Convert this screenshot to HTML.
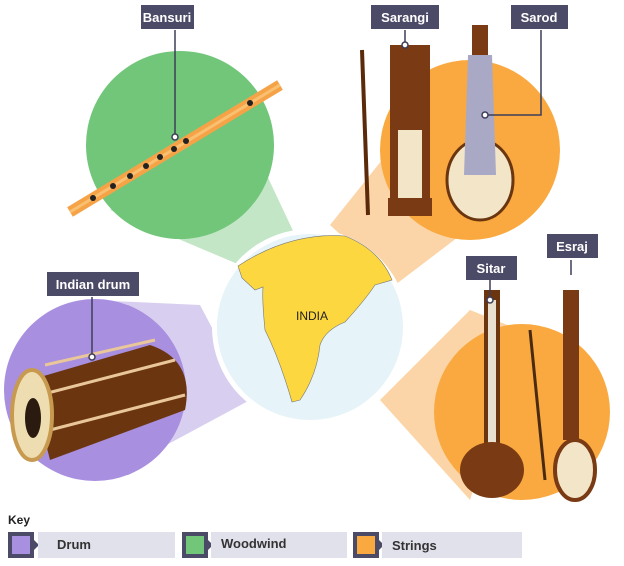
<!DOCTYPE html>
<html><head><style>
body{margin:0;background:#fff;width:624px;height:566px;overflow:hidden;font-family:"Liberation Sans",sans-serif}
</style></head><body>
<svg width="624" height="566" style="position:absolute;left:0;top:0" font-family="Liberation Sans, sans-serif">
<polygon points="110,210 255,150 295,235 240,265" fill="#c2e6c6"/>
<polygon points="390,150 520,190 395,285 330,225" fill="#fbd5a7"/>
<polygon points="90,300 200,305 250,400 120,470" fill="#d8cef0"/>
<polygon points="470,310 520,330 470,500 380,400" fill="#fbd5a7"/>
<circle cx="180" cy="145" r="94" fill="#71c67a"/>
<circle cx="470" cy="150" r="90" fill="#f9a93f"/>
<circle cx="95" cy="390" r="91" fill="#a88fdf"/>
<circle cx="522" cy="412" r="88" fill="#f9a93f"/>
<circle cx="310" cy="327" r="98" fill="#fff"/>
<circle cx="310" cy="327" r="93" fill="#e6f3f8"/>
<path d="M238,266 Q290,232 345,236 Q380,250 392,280 L375,285 Q365,300 345,322 Q325,330 320,345 Q317,375 300,400 L292,402 Q280,360 265,330 Q262,300 263,287 L255,290 L242,278 Z" fill="#fcd73f" stroke="#777" stroke-width="0.6"/>
<text x="312" y="320" font-size="12" text-anchor="middle" fill="#222">INDIA</text>
<line x1="70" y1="212" x2="280" y2="85" stroke="#f6a347" stroke-width="11"/>
<line x1="70" y1="212" x2="280" y2="85" stroke="#f8c070" stroke-width="3"/>
<g fill="#222"><circle cx="93" cy="198" r="3"/><circle cx="113" cy="186" r="3"/><circle cx="130" cy="176" r="3"/><circle cx="146" cy="166" r="3"/><circle cx="160" cy="157" r="3"/><circle cx="174" cy="149" r="3"/><circle cx="186" cy="141" r="3"/><circle cx="250" cy="103" r="3"/></g>
<path d="M30,380 L150,345 Q195,360 185,410 L50,460 Z" fill="#6b3510"/>
<path d="M45,365 L155,340 M40,395 L175,360 M50,430 L185,395" stroke="#e9c79a" stroke-width="3"/>
<ellipse cx="32" cy="415" rx="20" ry="45" fill="#eeddb0" stroke="#c89a50" stroke-width="4"/>
<ellipse cx="33" cy="418" rx="8" ry="20" fill="#2a1a10"/>
<rect x="390" y="45" width="40" height="170" fill="#7a3b14"/>
<rect x="398" y="130" width="24" height="80" fill="#f3e6c8"/>
<line x1="362" y1="50" x2="368" y2="215" stroke="#5a2a0a" stroke-width="4"/>
<rect x="388" y="198" width="44" height="18" fill="#7a3b14"/>
<ellipse cx="480" cy="180" rx="33" ry="40" fill="#f3e6c8" stroke="#6b3510" stroke-width="3"/>
<path d="M468,55 L492,55 L496,175 L464,175 Z" fill="#a9a9c6"/>
<rect x="472" y="25" width="16" height="30" fill="#7a3b14"/>
<rect x="484" y="290" width="16" height="160" fill="#6b3510"/>
<rect x="488" y="300" width="8" height="150" fill="#e8e0d0"/>
<ellipse cx="492" cy="470" rx="32" ry="28" fill="#7a3b14"/>
<rect x="563" y="290" width="16" height="150" fill="#7a3b14"/>
<ellipse cx="575" cy="470" rx="20" ry="30" fill="#f3e6c8" stroke="#7a3b14" stroke-width="4"/>
<line x1="530" y1="330" x2="545" y2="480" stroke="#4a2a10" stroke-width="3"/>
<g stroke="#3d3d58" stroke-width="1.5" fill="#fff">
<line x1="175" y1="30" x2="175" y2="137"/><circle cx="175" cy="137" r="3"/>
<line x1="405" y1="30" x2="405" y2="45"/><circle cx="405" cy="45" r="3"/>
<path d="M541,30 L541,115 L485,115" fill="none"/><circle cx="485" cy="115" r="3"/>
<line x1="92" y1="297" x2="92" y2="357"/><circle cx="92" cy="357" r="3"/>
<line x1="490" y1="280" x2="490" y2="300"/><circle cx="490" cy="300" r="3"/>
<line x1="571" y1="260" x2="571" y2="275"/>
</g>
<g fill="#4b4b68">
<rect x="141" y="5" width="53" height="24"/><rect x="371" y="5" width="68" height="24"/><rect x="511" y="5" width="57" height="24"/>
<rect x="47" y="272" width="92" height="24"/><rect x="466" y="256" width="51" height="24"/><rect x="547" y="234" width="51" height="24"/>
</g>
<g fill="#fff" font-size="13" font-weight="bold" text-anchor="middle">
<text x="167" y="22">Bansuri</text><text x="405" y="22">Sarangi</text><text x="539" y="22">Sarod</text>
<text x="93" y="289">Indian drum</text><text x="491" y="273">Sitar</text><text x="572" y="251">Esraj</text>
</g>
<text x="8" y="524" font-size="12" font-weight="bold" fill="#222">Key</text>
<rect x="8" y="532" width="26" height="26" fill="#4b4b68"/><rect x="12" y="536" width="18" height="18" fill="#a88fdf"/><polygon points="34,540 39,545 34,550" fill="#4b4b68"/>
<rect x="38" y="532" width="137" height="26" fill="#e1e1ec"/>
<rect x="182" y="532" width="26" height="26" fill="#4b4b68"/><rect x="186" y="536" width="18" height="18" fill="#71c67a"/><polygon points="208,540 213,545 208,550" fill="#4b4b68"/>
<rect x="211" y="532" width="136" height="26" fill="#e1e1ec"/>
<rect x="353" y="532" width="26" height="26" fill="#4b4b68"/><rect x="357" y="536" width="18" height="18" fill="#f9a93f"/><polygon points="379,540 384,545 379,550" fill="#4b4b68"/>
<rect x="382" y="532" width="140" height="26" fill="#e1e1ec"/>
<g font-size="13" font-weight="bold" fill="#333">
<text x="57" y="549">Drum</text><text x="221" y="548">Woodwind</text><text x="392" y="550">Strings</text>
</g>
</svg>
</body></html>
